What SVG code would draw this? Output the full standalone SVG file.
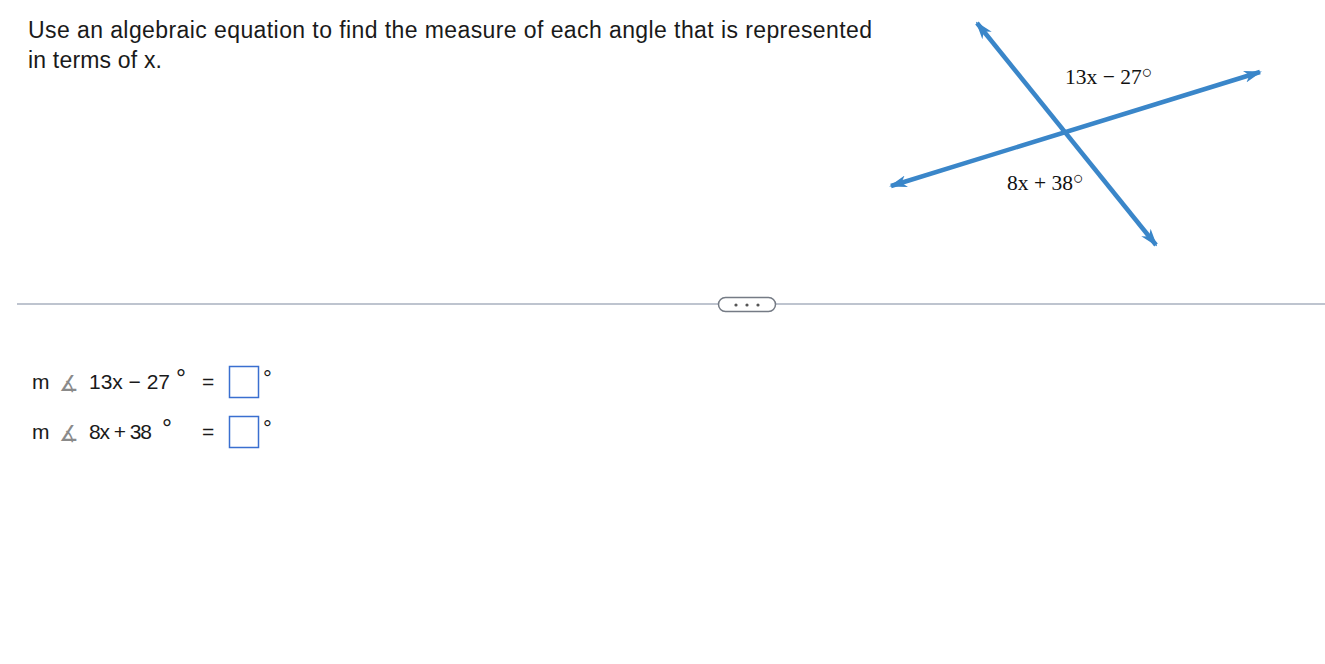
<svg xmlns="http://www.w3.org/2000/svg" width="1325" height="664" viewBox="0 0 1325 664">
<style>
.t{font-family:"Liberation Sans",Arial,sans-serif;fill:#1a1a1a}
.q{font-size:23px}
.a{font-size:21px}
.dg{font-size:25px}
.dg2{font-size:22px}
.m{font-family:"Liberation Serif","Times New Roman",serif;font-size:21.5px;fill:#111}
.ln{stroke:#3a86c9;stroke-width:4.5;fill:none;stroke-linecap:butt}
.box{fill:#fff;stroke:#3a6fd0;stroke-width:1.5}
.ang{fill:#8a8a8a;font-family:"DejaVu Sans",sans-serif;font-size:22px}
</style>
<defs>
<marker id="ah" viewBox="0 0 18 12" refX="16" refY="6" markerWidth="18" markerHeight="12" markerUnits="userSpaceOnUse" orient="auto-start-reverse">
<path d="M0,0 L18,6 L0,12 L5,6 Z" fill="#3a86c9"/>
</marker>
</defs>
<rect width="1325" height="664" fill="#fff"/>
<g id="question">
<text class="t q" x="28" y="38" textLength="844" lengthAdjust="spacing">Use an algebraic equation to find the measure of each angle that is represented</text>
<text class="t q" x="28" y="68" textLength="134" lengthAdjust="spacing">in terms of x.</text>
</g>
<g id="connectors">
<line class="ln" x1="977" y1="23" x2="1156" y2="245" marker-start="url(#ah)" marker-end="url(#ah)"/>
<line class="ln" x1="891" y1="186" x2="1260" y2="72" marker-start="url(#ah)" marker-end="url(#ah)"/>
</g>
<g id="label-top">
<text class="m" x="1065" y="84">13x − 27<tspan style="font-size:18px" dy="-6">○</tspan></text>
</g>
<g id="label-bottom">
<text class="m" x="1007" y="190">8x + 38<tspan style="font-size:18px" dy="-6">○</tspan></text>
</g>
<g id="separator">
<line x1="17" y1="304" x2="1325" y2="304" stroke="#a9b1bf" stroke-width="1.5"/>
<rect x="718.5" y="297.5" width="57" height="14" rx="7" fill="#fff" stroke="#757b85" stroke-width="1.5"/>
<circle cx="736" cy="305" r="1.6" fill="#555"/>
<circle cx="747" cy="305" r="1.6" fill="#555"/>
<circle cx="758" cy="305" r="1.6" fill="#555"/>
</g>
<g id="answer-1">
<text class="t a" x="32" y="389">m</text>
<text class="ang" x="59" y="391">∡</text>
<text class="t a" x="89" y="389" textLength="81" lengthAdjust="spacing">13x − 27</text>
<text class="t dg" x="176" y="387">°</text>
<text class="t a" x="202" y="389">=</text>
<rect class="box" x="229.5" y="366.5" width="29" height="31"/>
<text class="t dg2" x="263" y="386">°</text>
</g>
<g id="answer-2">
<text class="t a" x="32" y="439">m</text>
<text class="ang" x="59" y="441">∡</text>
<text class="t a" x="89" y="439" textLength="63" lengthAdjust="spacing">8x + 38</text>
<text class="t dg" x="162" y="437">°</text>
<text class="t a" x="202" y="439">=</text>
<rect class="box" x="229.5" y="416.5" width="29" height="31"/>
<text class="t dg2" x="263" y="436">°</text>
</g>
</svg>
